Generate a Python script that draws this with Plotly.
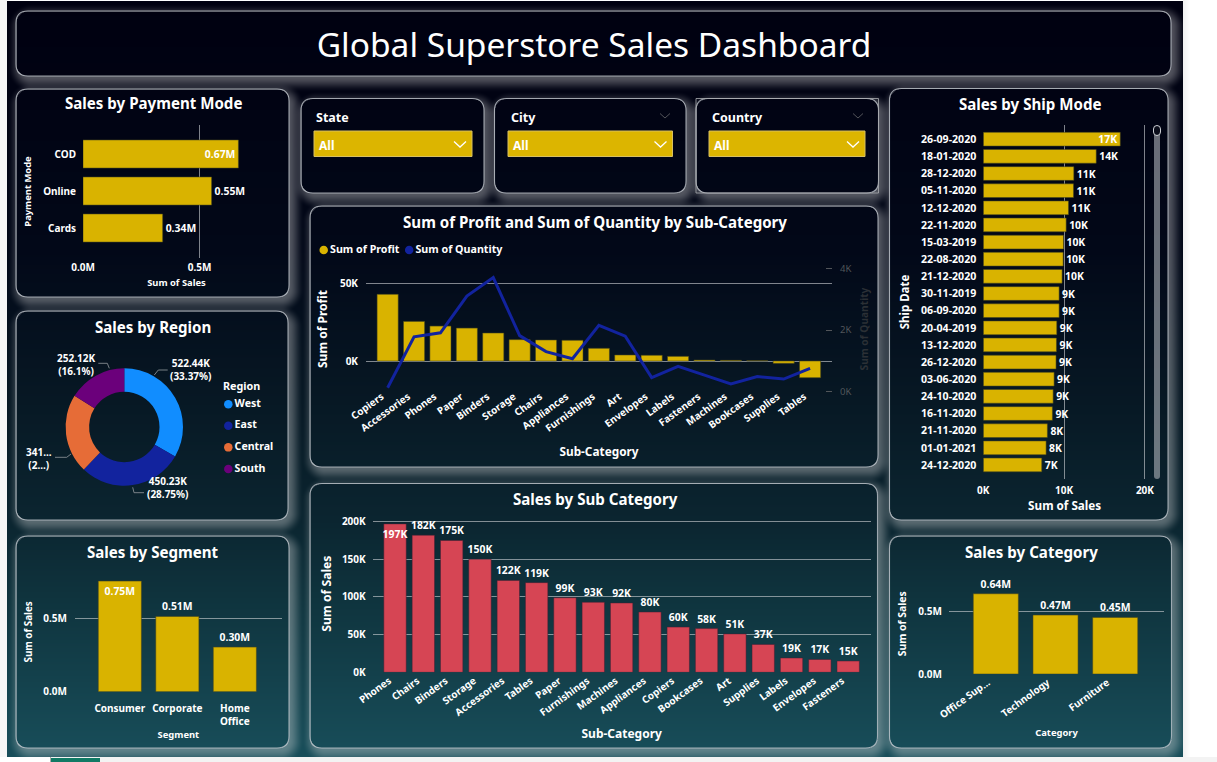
import base64, struct, zlib
import numpy as np
import plotly.graph_objects as go

W, H = 1217, 762
FONT = "Noto Sans"
GOLD = "#d9b300"
RED = "#d64554"
WHITE = "#ffffff"
GRID = "rgba(205,208,212,0.62)"

# ---------- data ----------
pay_modes = ["COD", "Online", "Cards"]
pay_sales = [0.667, 0.552, 0.342]
pay_ticks = ["0.0M", "0.5M"]

regions = ["West", "East", "Central", "South"]
region_sales = [522.44, 450.23, 341.0, 252.12]
region_colors = ["#118dff", "#12239e", "#e66c37", "#6b007b"]
region_labels = ["522.44K<br>(33.37%)", "450.23K<br>(28.75%)", "341...<br>(2...)", "252.12K<br>(16.1%)"]

segments = ["Consumer", "Corporate", "Home<br>Office"]
segment_sales = [0.754, 0.513, 0.304]

profit_cats = ["Copiers", "Accessories", "Phones", "Paper", "Binders", "Storage", "Chairs", "Appliances",
               "Furnishings", "Art", "Envelopes", "Labels", "Fasteners", "Machines", "Bookcases", "Supplies", "Tables"]
profit_k = [43.1, 25.6, 22.6, 21.3, 18.1, 13.8, 13.6, 13.4, 8.2, 3.9, 3.7, 3.0, 0.65, 0.45, 0.2, -1.5, -10.8]
quantity_k = [0.13, 1.78, 1.91, 3.1, 3.7, 1.82, 1.3, 1.07, 2.15, 1.8, 0.46, 0.82, 0.54, 0.25, 0.49, 0.41, 0.76]
combo_series = ["Sum of Profit", "Sum of Quantity"]
profit_ticks = ["0K", "50K"]
quantity_ticks = ["0K", "2K", "4K"]

sub_cats = ["Phones", "Chairs", "Binders", "Storage", "Accessories", "Tables", "Paper", "Furnishings", "Machines",
            "Appliances", "Copiers", "Bookcases", "Art", "Supplies", "Labels", "Envelopes", "Fasteners"]
sub_sales_k = [197, 182, 175, 150, 122, 119, 99, 93, 92, 80, 60, 58, 51, 37, 19, 17, 15]
sub_ticks = ["0K", "50K", "100K", "150K", "200K"]

ship_dates = ["26-09-2020", "18-01-2020", "28-12-2020", "05-11-2020", "12-12-2020", "22-11-2020", "15-03-2019",
              "22-08-2020", "21-12-2020", "30-11-2019", "06-09-2020", "20-04-2019", "13-12-2020", "26-12-2020",
              "03-06-2020", "24-10-2020", "16-11-2020", "21-11-2020", "01-01-2021", "24-12-2020"]
ship_sales_k = [16.94, 13.97, 11.2, 11.16, 10.54, 10.25, 9.92, 9.88, 9.75, 9.38, 9.38, 9.09, 9.05, 9.0, 8.76, 8.64,
                8.55, 7.93, 7.77, 7.23]
ship_ticks = ["0K", "10K", "20K"]

categories = ["Office Sup...", "Technology", "Furniture"]
category_sales = [0.644, 0.473, 0.454]

slicers = ["State", "City", "Country"]
slicer_value = "All"

# ---------- layout boxes (pixels) ----------
PANELS = [
    (16, 11, 1171, 76), (16, 89, 289, 297), (16, 311, 288, 520), (16, 536, 289, 748),
    (301, 98.5, 484, 193), (494.5, 98.5, 686, 193), (696, 98.5, 878.5, 193),
    (310, 206, 878, 467), (310, 483.5, 877.5, 748), (889.5, 88.5, 1168, 520), (889.5, 536, 1171.5, 748),
]


def background_uri():
    yy, xx = np.mgrid[0:H, 0:W].astype(float)
    stops_y = [0, 250, 400, 520, 600, 757]
    stops = np.array([[0, 0, 16], [2, 8, 24], [7, 24, 36], [11, 37, 48], [15, 52, 62], [24, 78, 90]], float)
    col = np.stack([np.interp(yy[:, 0], stops_y, stops[:, i]) for i in range(3)], axis=1)
    img = np.repeat(col[:, None, :], W, axis=1)

    def sdf(box, dx=0.0, dy=0.0, r=12.0):
        x0, y0, x1, y1 = box
        cx, cy = (x0 + x1) / 2 + dx, (y0 + y1) / 2 + dy
        qx = np.abs(xx - cx) - (x1 - x0) / 2 + r
        qy = np.abs(yy - cy) - (y1 - y0) / 2 + r
        return np.hypot(np.maximum(qx, 0), np.maximum(qy, 0)) + np.minimum(np.maximum(qx, qy), 0) - r

    keep = np.ones((H, W))
    inside = np.zeros((H, W), bool)
    for box in PANELS:
        d = sdf(box, 3, 4)
        t = np.clip(1 - (d + 4) / 16, 0, 1)
        keep *= 1 - 0.36 * t * t * (3 - 2 * t)
        inside |= sdf(box) < 0
    keep[inside] = 1
    img = img * keep[..., None] + 225 * (1 - keep[..., None])

    page = np.full((H, W, 3), 255.0)
    page[:, :7] = 246
    page[757:, :] = 243
    page[758:, 51:100] = (17, 122, 101)
    page[757:, 50] = 170
    page[757:, :50] = 255
    fade = np.clip((1190 - xx[:757, 1183:]) / 7, 0, 1) * 14
    page[:757, 1183:] = (255 - fade)[..., None]
    x0, x1, y0, y1 = 7, 1183, 1, 757
    page[y0:y1, x0:x1] = img[y0:y1, x0:x1]

    arr = np.clip(page + 0.5, 0, 255).astype(np.uint8)
    raw = np.concatenate([np.zeros((H, 1), np.uint8), arr.reshape(H, -1)], axis=1).tobytes()

    def chunk(tag, data):
        return struct.pack(">I", len(data)) + tag + data + struct.pack(">I", zlib.crc32(tag + data))

    png = b"\x89PNG\r\n\x1a\n" + chunk(b"IHDR", struct.pack(">IIBBBBB", W, H, 8, 2, 0, 0, 0)) + \
        chunk(b"IDAT", zlib.compress(raw, 9)) + chunk(b"IEND", b"")
    return "data:image/png;base64," + base64.b64encode(png).decode()


def fx(x):
    return x / W


def fy(y):
    return 1 - y / H


def rr_path(x0, y0, x1, y1, r):
    X0, X1, Y0, Y1 = fx(x0), fx(x1), fy(y0), fy(y1)
    rx, ry = r / W, r / H
    return (f"M{X0 + rx},{Y0} L{X1 - rx},{Y0} Q{X1},{Y0} {X1},{Y0 - ry} L{X1},{Y1 + ry} Q{X1},{Y1} {X1 - rx},{Y1} "
            f"L{X0 + rx},{Y1} Q{X0},{Y1} {X0},{Y1 + ry} L{X0},{Y0 - ry} Q{X0},{Y0} {X0 + rx},{Y0} Z")


def poly(points):
    return "M" + " L".join(f"{fx(x)},{fy(y)}" for x, y in points)


shapes = []
for box in PANELS:
    shapes.append(dict(type="path", xref="paper", yref="paper", path=rr_path(*box, 12), layer="below",
                       line=dict(color="rgba(198,204,210,0.78)", width=1.1)))
# focus outline of the Country slicer
shapes.append(dict(type="rect", xref="paper", yref="paper", x0=fx(696), x1=fx(878.5), y0=fy(193), y1=fy(98.5),
                   layer="below", line=dict(color="rgba(170,172,176,0.8)", width=1)))

annotations = []


def text(x, y, s, size=10, color=WHITE, anchor="center", weight=700, angle=0, va="middle"):
    annotations.append(dict(xref="paper", yref="paper", x=fx(x), y=fy(y), text=s, showarrow=False, xanchor=anchor,
                            yanchor=va, textangle=angle, align="center",
                            font=dict(family=FONT, size=size, color=color, weight=weight)))


# panel titles
TS = 15.1
text(153, 103.5, "Sales by Payment Mode", TS)
text(153, 327, "Sales by Region", TS)
text(153, 551.5, "Sales by Segment", TS)
text(594.5, 222, "Sum of Profit and Sum of Quantity by Sub-Category", TS)
text(595, 499, "Sales by Sub Category", TS)
text(1030, 104, "Sales by Ship Mode", TS)
text(1031.5, 552, "Sales by Category", TS)

# slicers
slicer_boxes = [(314, 472, 314), (508, 672.5, 509), (709, 865, 709.5)]
for name, (a, b, tx) in zip(slicers, slicer_boxes):
    shapes.append(dict(type="rect", xref="paper", yref="paper", x0=fx(a), x1=fx(b), y0=fy(156.5), y1=fy(131),
                       layer="below", fillcolor="#dcb500", line=dict(color="#d8c060", width=1)))
    shapes.append(dict(type="path", xref="paper", yref="paper", path=poly([(b - 18, 141.5), (b - 12, 147), (b - 6, 141.5)]),
                       layer="below", line=dict(color=WHITE, width=1.3)))
    text(tx, 118, name, 12.5, anchor="left")
    text(a + 3, 145.5, slicer_value, 12, anchor="left")
for a in (665, 858):
    shapes.append(dict(type="path", xref="paper", yref="paper", path=poly([(a - 5, 113.5), (a, 118), (a + 5, 113.5)]),
                       layer="below", line=dict(color="rgba(90,92,96,0.9)", width=1)))

# donut labels and leaders
for s, (x, y) in zip(region_labels, [(191, 369.5), (168, 487), (38.5, 458), (75.5, 364)]):
    text(x, y, s, 10)
for pts in ([(154.3, 375), (158.3, 370), (167.7, 370)], [(132.7, 487.3), (134, 492.7), (144, 492.7)],
            [(71, 454), (66.7, 457.3), (55, 457.3)], [(109.3, 368.3), (107.3, 363.3), (98.3, 363.3)]):
    shapes.append(dict(type="path", xref="paper", yref="paper", path=poly(pts), layer="below",
                       line=dict(color="rgba(140,146,150,0.85)", width=1)))
text(221, 385, "Region", 10.8, anchor="left")

# scrollbar of the ship-date panel
shapes.append(dict(type="path", xref="paper", yref="paper", path=rr_path(1154, 126, 1160, 479, 3), layer="below",
                   fillcolor="rgba(170,175,180,0.62)", line=dict(width=0)))
shapes.append(dict(type="path", xref="paper", yref="paper", path=rr_path(1153.5, 125.5, 1160.5, 135.5, 3.5), layer="above",
                   fillcolor="#0a0d1a", line=dict(color="rgba(215,218,222,0.95)", width=1)))

fig = go.Figure()


def font(size=10, color=WHITE, weight=700):
    return dict(family=FONT, size=size, color=color, weight=weight)


def axis(px_from, px_to, vertical=False, **kw):
    dom = [fy(px_to), fy(px_from)] if vertical else [fx(px_from), fx(px_to)]
    base = dict(domain=dom, showline=False, zeroline=False, showgrid=False, ticks="", tickfont=font(), fixedrange=True,
                automargin=False)
    base.update(kw)
    return base


def ttl(s, standoff, size=9.4, color=WHITE):
    return dict(text=s, standoff=standoff, font=font(size, color))


BAR = dict(color=GOLD, line=dict(color="rgba(70,70,30,0.55)", width=1))
LBL = 10.4
lay = {}

# Payment mode
fig.add_trace(go.Bar(y=pay_modes, x=pay_sales, orientation="h", xaxis="x", yaxis="y", marker=BAR, width=0.76,
                     text=[f"{v:.2f}M" for v in pay_sales], textposition=["inside", "outside", "outside"],
                     insidetextanchor="end", constraintext="none", textangle=0, cliponaxis=False,
                     textfont=font(LBL), outsidetextfont=font(LBL), insidetextfont=font(LBL)))
lay["xaxis"] = axis(83, 270, anchor="y", range=[0, 0.8026], tickvals=[0, 0.5], ticktext=pay_ticks,
                    ticklabelstandoff=2, showgrid=True, gridcolor=GRID, gridwidth=1, title=ttl("Sum of Sales", 6))
lay["yaxis"] = axis(125, 258, True, anchor="x", type="category", categoryorder="array", categoryarray=pay_modes,
                    range=[2.81, -0.784], ticklabelstandoff=6, title=ttl("Payment Mode", 9))

# Ship dates
fig.add_trace(go.Bar(y=ship_dates, x=ship_sales_k, orientation="h", xaxis="x2", yaxis="y2", marker=BAR, width=0.8,
                     text=[f"{v:.0f}K" for v in ship_sales_k],
                     textposition=["inside"] + ["outside"] * (len(ship_dates) - 1),
                     insidetextanchor="end", constraintext="none", textangle=0, cliponaxis=False,
                     textfont=font(LBL), outsidetextfont=font(LBL), insidetextfont=font(LBL)))
lay["xaxis2"] = axis(983.3, 1146, anchor="y2", range=[0, 20.13], tickvals=[0, 10, 20], ticktext=ship_ticks,
                     ticklabelstandoff=4, showgrid=True, gridcolor=GRID, gridwidth=1.2, title=ttl("Sum of Sales", 5, 11.7))
lay["yaxis2"] = axis(125, 479, True, anchor="x2", type="category", categoryorder="array", categoryarray=ship_dates,
                     tickfont=font(10.6), range=[19.82, -0.83], ticklabelstandoff=6, title=ttl("Ship Date", 9, 11.5))

# Segment
fig.add_trace(go.Bar(x=segments, y=segment_sales, xaxis="x3", yaxis="y3", marker=BAR, width=0.75,
                     text=[f"{v:.2f}M" for v in segment_sales], textposition=["inside", "outside", "outside"],
                     insidetextanchor="end", constraintext="none", textangle=0, cliponaxis=False,
                     textfont=font(LBL), outsidetextfont=font(LBL), insidetextfont=font(LBL)))
lay["xaxis3"] = axis(75, 281.8, anchor="y3", type="category", categoryorder="array", categoryarray=segments,
                     range=[-0.78, 2.817], ticklabelstandoff=9, title=ttl("Segment", 4))
lay["yaxis3"] = axis(572, 691.7, True, anchor="x3", range=[0, 0.8159], tickvals=[0, 0.5], ticktext=pay_ticks,
                     showgrid=True, gridcolor=GRID, gridwidth=1.3, ticklabelstandoff=7, title=ttl("Sum of Sales", 8, 9.8))

# Combo
fig.add_trace(go.Bar(x=profit_cats, y=profit_k, name=combo_series[0], xaxis="x4", yaxis="y4", marker=BAR, width=0.8,
                     cliponaxis=False))
fig.add_trace(go.Scatter(x=profit_cats, y=quantity_k, name=combo_series[1], xaxis="x4", yaxis="y5", mode="lines",
                         line=dict(color="#12239e", width=3), cliponaxis=False))
lay["xaxis4"] = axis(366, 832, anchor="y4", type="category", categoryorder="array", categoryarray=profit_cats,
                     range=[-0.82, 16.83], tickangle=-36, ticklabelstandoff=-8, ticklabelshift=-6,
                     title=ttl("Sub-Category", 13, 11.8))
lay["yaxis4"] = axis(262, 396, True, anchor="x4", range=[-22.64, 64.04], tickvals=[0, 50], ticktext=profit_ticks,
                     showgrid=True, gridcolor=GRID, gridwidth=1.4, ticklabelstandoff=7, title=ttl("Sum of Profit", 9, 12))
DIM = "rgba(86,90,94,0.95)"
lay["yaxis5"] = axis(262, 396, True, anchor="x4", overlaying="y4", side="right", range=[-0.139, 4.207],
                     tickvals=[0, 2, 4], ticktext=quantity_ticks, ticks="inside", ticklen=6, tickcolor=DIM, tickwidth=1,
                     tickfont=font(9.6, DIM, 400), ticklabelstandoff=7,
                     title=ttl("Sum of Quantity", 10, 10.2, "rgba(50,54,58,0.85)"))

# Sub-category
fig.add_trace(go.Bar(x=sub_cats, y=sub_sales_k, xaxis="x5", yaxis="y6",
                     marker=dict(color=RED, line=dict(color="rgba(70,30,50,0.5)", width=1)), width=0.79,
                     text=[f"{v}K" for v in sub_sales_k], textposition=["inside"] + ["outside"] * 16,
                     insidetextanchor="end", constraintext="none", textangle=0, cliponaxis=False,
                     textfont=font(LBL), outsidetextfont=font(LBL), insidetextfont=font(LBL)))
lay["xaxis5"] = axis(372.7, 870.7, anchor="y6", type="category", categoryorder="array", categoryarray=sub_cats,
                     range=[-0.788, 16.795], tickangle=-36, ticklabelshift=-6, title=ttl("Sub-Category", 11, 12))
lay["yaxis6"] = axis(515, 672.3, True, anchor="x5", range=[0, 208.8], tickvals=[0, 50, 100, 150, 200], ticktext=sub_ticks,
                     showgrid=True, gridcolor=GRID, gridwidth=1.3, ticklabelstandoff=6, title=ttl("Sum of Sales", 7, 12.2))

# Category
fig.add_trace(go.Bar(x=categories, y=category_sales, xaxis="x6", yaxis="y7", marker=BAR, width=0.755,
                     text=[f"{v:.2f}M" for v in category_sales], textposition="outside",
                     constraintext="none", textangle=0, cliponaxis=False, textfont=font(LBL)))
lay["xaxis6"] = axis(949, 1164, anchor="y7", type="category", categoryorder="array", categoryarray=categories,
                     range=[-0.784, 2.817], tickangle=-36, ticklabelshift=-8, title=ttl("Category", 9))
lay["yaxis7"] = axis(573.4, 674, True, anchor="x6", range=[0, 0.8074], tickvals=[0, 0.5], ticktext=pay_ticks,
                     showgrid=True, gridcolor=GRID, gridwidth=1.3, ticklabelstandoff=6, title=ttl("Sum of Sales", 9, 10.4))

# Donut
fig.add_trace(go.Pie(labels=regions, values=region_sales, hole=0.6, sort=False, direction="clockwise", rotation=0,
                     textinfo="none", showlegend=False, marker=dict(colors=region_colors, line=dict(width=0)),
                     domain=dict(x=[fx(124.3 - 58.7), fx(124.3 + 58.7)], y=[fy(427 + 58.7), fy(427 - 58.7)])))

# Compact legends
fig.add_trace(go.Scatter(x=[0, 0, 0, 0], y=regions, xaxis="x7", yaxis="y8", mode="markers+text", text=regions,
                         textposition="middle right", textfont=font(10.6),
                         marker=dict(size=8.5, color=region_colors), cliponaxis=False))
lay["xaxis7"] = axis(224, 284, anchor="y8", range=[-4.3, 55.7], visible=False)
lay["yaxis8"] = axis(394, 479, True, anchor="x7", type="category", categoryorder="array", categoryarray=regions,
                     range=[3.47, -0.48], visible=False)

fig.add_trace(go.Scatter(x=combo_series, y=[0, 0], xaxis="x8", yaxis="y9", mode="markers+text", text=combo_series,
                         textposition="middle right", textfont=font(10.7),
                         marker=dict(size=8.5, color=[GOLD, "#12239e"]), cliponaxis=False))
lay["xaxis8"] = axis(318, 510, anchor="y9", type="category", categoryorder="array", categoryarray=combo_series,
                     range=[-0.067, 2.18], visible=False)
lay["yaxis9"] = axis(243, 257, True, anchor="x8", range=[-1, 1], visible=False)

fig.update_layout(
    width=W, height=H, margin=dict(l=0, r=0, t=0, b=0, autoexpand=False), autosize=False,
    paper_bgcolor=WHITE, plot_bgcolor="rgba(0,0,0,0)", showlegend=False, bargap=0.2,
    font=dict(family=FONT, color=WHITE),
    title=dict(text="Global Superstore Sales Dashboard", x=594 / W, xanchor="center", y=fy(45), yanchor="middle",
               font=dict(family=FONT, size=33.5, color=WHITE, weight=400)),
    shapes=shapes, annotations=annotations,
    images=[dict(source=background_uri(), xref="paper", yref="paper", x=0, y=1, sizex=1, sizey=1,
                 xanchor="left", yanchor="top", sizing="stretch", layer="below")],
    **lay,
)

fig.write_html("out.html", config=dict(displayModeBar=False),
               post_script="document.body.style.margin='0';document.documentElement.style.overflow='hidden';")
